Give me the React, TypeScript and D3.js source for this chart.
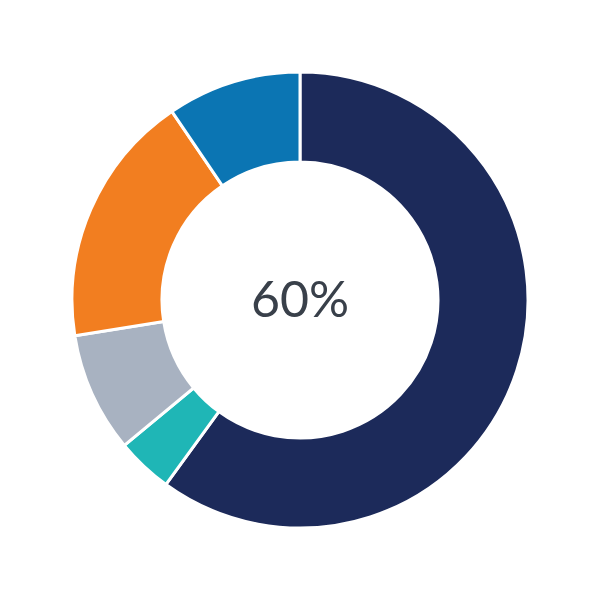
import { useEffect, useRef } from "react";
import * as d3 from "d3";

const categories = ["Navy", "Teal", "Gray", "Orange", "Blue"];
const values = [60, 4, 8.5, 18, 9.5];
const colors = ["#1c2a5a", "#1fb6b6", "#a8b2c1", "#f27e20", "#0b75b3"];
const centerLabel = "60%";

export default function App() {
	const svgRef = useRef<SVGSVGElement | null>(null);

	useEffect(() => {
		if (!svgRef.current) return;
		const width = 600;
		const height = 600;
		const cx = 300;
		const cy = 300;

		const svg = d3.select(svgRef.current);
		svg.selectAll("*").remove();

		const pie = d3
			.pie<number>()
			.sort(null)
			.value((d) => d);

		const arc = d3
			.arc<d3.PieArcDatum<number>>()
			.innerRadius(138)
			.outerRadius(228);

		const g = svg.append("g").attr("transform", `translate(${cx},${cy})`);

		g.selectAll("path")
			.data(pie(values))
			.join("path")
			.attr("d", arc)
			.attr("fill", (_d, i) => colors[i])
			.attr("stroke", "#fff")
			.attr("stroke-width", 3)
			.append("title")
			.text((d, i) => `${categories[i]}: ${d.data}%`);

		g.append("text")
			.attr("text-anchor", "middle")
			.attr("y", 17)
			.attr("font-family", "Lato, sans-serif")
			.attr("font-weight", 400)
			.attr("font-size", 50)
			.attr("fill", "#39404a")
			.text(centerLabel);

		svg.attr("width", width).attr("height", height);
	}, []);

	return (
		<div style={{ position: "absolute", left: 0, top: 0, background: "#fff" }}>
			<svg ref={svgRef} width={600} height={600} style={{ display: "block" }} />
		</div>
	);
}
